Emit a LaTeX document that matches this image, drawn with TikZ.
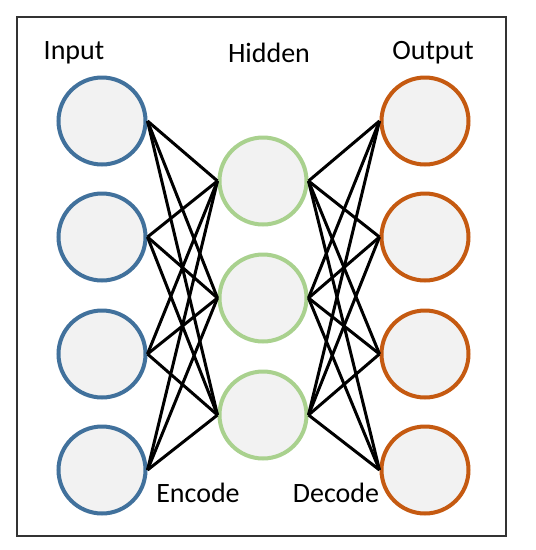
\documentclass[tikz,border=0pt]{standalone}
\usepackage{fontspec}
\setmainfont{Carlito}
\usepackage{xcolor}
\usepackage{tikz}
\usetikzlibrary{positioning}
\definecolor{inBlue}{RGB}{65,113,156}
\definecolor{hidGreen}{RGB}{169,209,142}
\definecolor{outOrange}{RGB}{197,90,17}
\tikzset{
    neuron/.style={circle, line width=4pt, fill=black!5, minimum size=87pt, inner sep=0pt},
    inNeuron/.style={neuron, draw=inBlue},
    hidNeuron/.style={neuron, draw=hidGreen},
    outNeuron/.style={neuron, draw=outOrange},
    link/.style={line width=3pt, black},
    label/.style={font=\fontsize{28}{33}\selectfont, inner sep=0pt}
}

\begin{document}
\begin{tikzpicture}[x=1pt, y=-1pt]
    \useasboundingbox[fill=white] (0,0) rectangle (536,550);
    \draw[line width=2pt, black!80] (17,17) rectangle (506,536);

    % Layers
    \foreach \i/\y in {1/121, 2/237, 3/354, 4/470} {
        \node[inNeuron] (in\i) at (102,\y) {};
        \node[outNeuron] (out\i) at (425,\y) {};
    }
    \foreach \i/\y in {1/181, 2/298, 3/415} {
        \node[hidNeuron] (hid\i) at (263,\y) {};
    }

    % Connections
    \foreach \i in {1,...,4} {
        \foreach \j in {1,2,3} {
            \draw[link] (in\i.east) -- (hid\j.west);
            \draw[link] (hid\j.east) -- (out\i.west);
        }
    }

    % Labels
    \node[label] (inLbl) at (74,53) {Input};
    \node[label] (hidLbl) at (269,53) {Hidden};
    \node[label] (outLbl) at (433,53) {Output};
    \node[label] (encLbl) at (198,493) {Encode};
    \node[label] (decLbl) at (336,493) {Decode};
\end{tikzpicture}
\end{document}
